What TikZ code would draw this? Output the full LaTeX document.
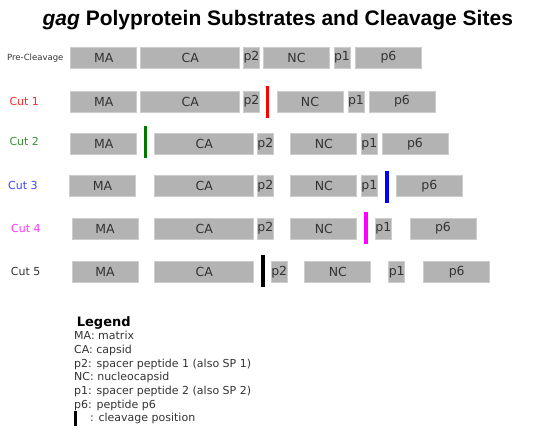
\documentclass[tikz,border=0pt]{standalone}
\usepackage{fontspec}
\setmainfont{DejaVu Sans}
\newfontfamily\titlefont{Liberation Sans}
\usepackage{tikz}

\definecolor{boxgray}{RGB}{179,179,179}
\definecolor{boxedge}{RGB}{205,205,205}
\definecolor{labelgray}{RGB}{51,51,51}
\definecolor{cutred}{RGB}{255,40,40}
\definecolor{cutgreen}{RGB}{0,120,0}
\definecolor{cutblue}{RGB}{20,20,255}
\definecolor{cutmagenta}{RGB}{255,0,255}

\tikzset{
  box/.style={draw=boxedge,fill=boxgray,line width=0.8pt,inner sep=0pt,
    minimum height=21pt,text=labelgray,font=\fontsize{12.5}{14}\selectfont},
  ma/.style={box,minimum width=66pt},
  ca/.style={box,minimum width=99pt},
  pep/.style={box,minimum width=15pt},
  nc/.style={box,minimum width=66pt},
  psix/.style={box,minimum width=66pt},
  cutbar/.style={inner sep=0pt,minimum width=3.8pt,minimum height=32pt},
  rowlabel/.style={anchor=west,inner sep=0pt,font=\fontsize{11}{13}\selectfont},
  legline/.style={anchor=base west,inner sep=0pt,text=labelgray,
    font=\fontsize{11}{13}\selectfont}
}

\begin{document}
\begin{tikzpicture}[x=1pt,y=-1pt]
    \useasboundingbox (0,0) rectangle (550,442);

    % title
    \node[anchor=base,inner sep=0pt,font=\titlefont\fontsize{21}{24}\selectfont\bfseries]
      (title) at (277.8,25) {\textit{gag} Polyprotein Substrates and Cleavage Sites};

    % row labels
    \node[rowlabel,text=labelgray,font=\fontsize{8.5}{10}\selectfont] (pre) at (7,58.3) {Pre-Cleavage};
    \node[rowlabel,text=cutred] (cut1) at (9.3,101.7) {Cut 1};
    \node[rowlabel,text=cutgreen!80!white] (cut2) at (9.3,141.7) {Cut 2};
    \node[rowlabel,text=cutblue!80!white] (cut3) at (8,185.7) {Cut 3};
    \node[rowlabel,text=cutmagenta!80!white] (cut4) at (11,228.3) {Cut 4};
    \node[rowlabel,text=labelgray] (cut5) at (10.7,271.7) {Cut 5};

    % pre-cleavage
    \node[ma] (pre-ma) at (103.8,57.5) {MA};
    \node[ca] (pre-ca) at (190.3,57.5) {CA};
    \node[pep] (pre-p2) at (251.5,57.5) {p2};
    \node[nc] (pre-nc) at (296.5,57.5) {NC};
    \node[pep] (pre-p1) at (342,57.5) {p1};
    \node[psix] (pre-p6) at (388.5,57.5) {p6};

    % cut 1
    \node[ma] (c1-ma) at (103.8,101.5) {MA};
    \node[ca] (c1-ca) at (190.3,101.5) {CA};
    \node[pep] (c1-p2) at (251.5,101.5) {p2};
    \node[cutbar,fill=red] (c1-bar) at (267.5,102) {};
    \node[nc] (c1-nc) at (310,101.5) {NC};
    \node[pep] (c1-p1) at (356,101.5) {p1};
    \node[psix] (c1-p6) at (402,101.5) {p6};

    % cut 2
    \node[ma] (c2-ma) at (103.8,144) {MA};
    \node[cutbar,fill=cutgreen] (c2-bar) at (145.5,142.3) {};
    \node[ca] (c2-ca) at (204.2,144) {CA};
    \node[pep] (c2-p2) at (265.3,144) {p2};
    \node[nc] (c2-nc) at (323.8,144) {NC};
    \node[pep] (c2-p1) at (369.3,144) {p1};
    \node[psix] (c2-p6) at (415,144) {p6};

    % cut 3
    \node[ma] (c3-ma) at (102.5,186.2) {MA};
    \node[ca] (c3-ca) at (204.2,186.2) {CA};
    \node[pep] (c3-p2) at (265.3,186.2) {p2};
    \node[nc] (c3-nc) at (323.8,186.2) {NC};
    \node[pep] (c3-p1) at (369.3,186.2) {p1};
    \node[cutbar,fill=blue] (c3-bar) at (386.8,186.7) {};
    \node[psix] (c3-p6) at (429.3,186.2) {p6};

    % cut 4
    \node[ma] (c4-ma) at (105,228.5) {MA};
    \node[ca] (c4-ca) at (204.2,228.5) {CA};
    \node[pep] (c4-p2) at (265.3,228.5) {p2};
    \node[nc] (c4-nc) at (323.8,228.5) {NC};
    \node[cutbar,fill=cutmagenta] (c4-bar) at (365.8,227.9) {};
    \node[pep] (c4-p1) at (383.3,228.5) {p1};
    \node[psix] (c4-p6) at (443,228.5) {p6};

    % cut 5
    \node[ma] (c5-ma) at (105,272) {MA};
    \node[ca] (c5-ca) at (204.2,272) {CA};
    \node[cutbar,fill=black] (c5-bar) at (262.8,270.7) {};
    \node[pep] (c5-p2) at (279.2,272) {p2};
    \node[nc] (c5-nc) at (337.8,272) {NC};
    \node[pep] (c5-p1) at (396.7,272) {p1};
    \node[psix] (c5-p6) at (456.7,272) {p6};

    % legend
    \node[anchor=base west,inner sep=0pt,font=\fontsize{13}{15}\selectfont\bfseries]
      (legend) at (76.7,326.4) {Legend};
    \node[legline] (leg-ma) at (74,339.7) {MA: matrix};
    \node[legline] (leg-ca) at (74,353.4) {CA: capsid};
    \node[legline] (leg-p2) at (74,367.1) {p2: spacer peptide 1 (also SP 1)};
    \node[legline] (leg-nc) at (74,380.8) {NC: nucleocapsid};
    \node[legline] (leg-p1) at (74,394.5) {p1: spacer peptide 2 (also SP 2)};
    \node[legline] (leg-p6) at (74,408.2) {p6: peptide p6};
    \node[cutbar,fill=black,minimum height=14.7pt,minimum width=3.3pt] (leg-bar) at (75.7,418.3) {};
    \node[legline] (leg-cut) at (90,421.9) {: cleavage position};
\end{tikzpicture}
\end{document}
